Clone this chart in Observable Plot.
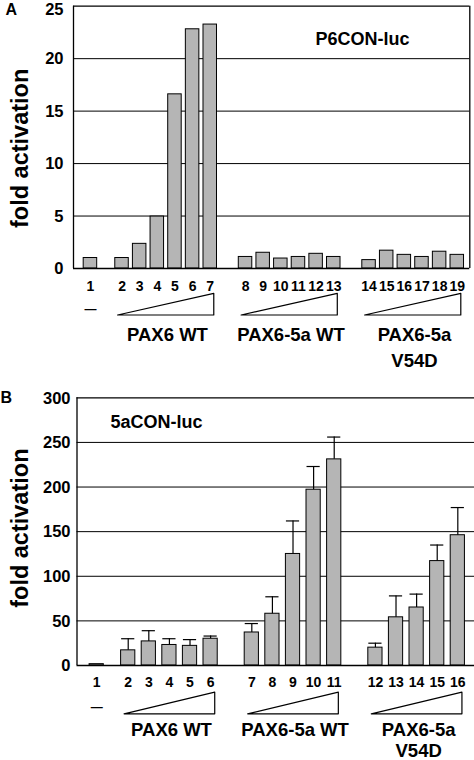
<!DOCTYPE html>
<html>
<head>
<meta charset="utf-8">
<script src="https://cdn.jsdelivr.net/npm/d3@7"></script>
<script src="https://cdn.jsdelivr.net/npm/@observablehq/plot@0.6"></script>
<style>
  html, body { margin: 0; padding: 0; background: #fff; overflow: hidden; }
  #chart svg { display: block; }
</style>
</head>
<body>
<div id="chart"></div>
<script>
// ---------- data ----------
const topLabels = ["1","2","3","4","5","6","7","8","9","10","11","12","13","14","15","16","17","18","19"];
const topGroups = [0,1,1,1,1,1,1,2,2,2,2,2,2,3,3,3,3,3,3];
const topValues = [1.0,1.0,2.35,4.95,16.6,22.8,23.25,1.1,1.5,0.95,1.1,1.4,1.1,0.8,1.7,1.3,1.1,1.6,1.3];
const topTicks = [0,5,10,15,20,25];
const topTitle = "P6CON-luc";
const topLetter = "A";

const bottomLabels = ["1","2","3","4","5","6","7","8","9","10","11","12","13","14","15","16"];
const bottomGroups = [0,1,1,1,1,1,2,2,2,2,2,3,3,3,3,3];
const bottomValues = [1.5,17,27,23,22,30,37,58,125,197,231,20,54,65,117,146];
const bottomErrors = [0,13,12,7,7,3,10,19,37,26,25,5,24,15,18,31];
const bottomTicks = [0,50,100,150,200,250,300];
const bottomTitle = "5aCON-luc";
const bottomLetter = "B";

const groupNames = ["—", "PAX6 WT", "PAX6-5a WT", "PAX6-5a\nV54D"];
const yLabel = "fold activation";

// ---------- drawing ----------
const FONT = "'Liberation Sans', Arial, Helvetica, sans-serif";
const BAR_FILL = "#b5b5b5";

function panel(labels, groups, values, errors, ticks, title, letter, L) {
  const yMax = ticks[ticks.length - 1];
  const pxPerUnit = (L.height - L.mt - L.mb) / yMax;
  const below = px => -px / pxPerUnit; // pixel distance below the baseline, in y units
  const rows = labels.map((label, i) => {
    const g = groups[i];
    return {
      label, g, value: values[i], err: errors ? errors[i] : 0,
      pos: i + (g >= 1 ? L.firstGap : 0) + Math.max(g - 1, 0)
    };
  });
  const gids = [...new Set(groups)];
  const tri = [], glab = [];
  for (const g of gids) {
    const ps = rows.filter(r => r.g === g).map(r => r.pos);
    const a = d3.min(ps), b = d3.max(ps);
    if (g === 0) {
      glab.push({x: (a + b) / 2, text: groupNames[g], dash: true});
      continue;
    }
    const xl = a - L.triL, xr = b + L.triR;
    tri.push({g, x: xl, y: below(L.triBottom)});
    tri.push({g, x: xr, y: below(L.triBottom)});
    tri.push({g, x: xr, y: below(L.triTop)});
    tri.push({g, x: xl, y: below(L.triBottom)});
    glab.push({x: (xl + xr) / 2 + L.labShift, text: groupNames[g], dash: false});
  }
  const errRows = rows.filter(r => r.err > 0);
  const marks = [
    Plot.ruleY(ticks.filter(t => t > 0 && t < yMax), {stroke: "black", strokeWidth: 1}),
    Plot.rectY(rows, {
      x1: d => d.pos - L.barW / 2, x2: d => d.pos + L.barW / 2, y: "value",
      fill: BAR_FILL, stroke: "black", strokeWidth: 1
    }),
    Plot.ruleX(errRows, {x: "pos", y1: "value", y2: d => d.value + d.err, stroke: "black", strokeWidth: 1.2}),
    Plot.ruleY(errRows, {y: d => d.value + d.err, x1: d => d.pos - L.capHalf, x2: d => d.pos + L.capHalf, stroke: "black", strokeWidth: 1.2}),
    Plot.ruleY([0], {stroke: "black", strokeWidth: 1.6}),
    Plot.ruleY([yMax], {stroke: "black", strokeWidth: 1.3}),
    Plot.ruleX([L.xDomain[0]], {y1: 0, y2: yMax, stroke: "black", strokeWidth: 1.3}),
    Plot.axisY({ticks: ticks.slice(0, -1), tickSize: 0, tickPadding: L.tickPad, fontSize: 16.5, label: null, dy: 0.5, tickFormat: d => String(d)}),
    Plot.axisY({ticks: ticks.slice(-1), tickSize: 0, tickPadding: L.tickPad, fontSize: 16.5, label: null, dy: L.topTickDy, tickFormat: d => String(d)}),
    Plot.text(rows, {x: "pos", y: () => 0, text: "label", dy: L.numDy, lineAnchor: "top", fontSize: 14}),
    Plot.line(tri, {x: "x", y: "y", z: "g", stroke: "black", strokeWidth: 1.2}),
    Plot.text(glab.filter(d => d.dash), {x: "x", y: () => 0, text: "text", dy: L.dashDy, fontSize: 12}),
    Plot.text(glab.filter(d => !d.dash), {x: "x", y: () => 0, text: "text", dy: L.groupDy, lineAnchor: "top", fontSize: 18.5, lineHeight: L.lineHeight}),
    Plot.text([title], {frameAnchor: "top-left", textAnchor: "start", lineAnchor: "top", dx: L.titleDx, dy: L.titleDy, fontSize: 18}),
    Plot.text([letter], {frameAnchor: "top-left", textAnchor: "start", lineAnchor: "top", dx: L.letterDx, dy: L.letterDy, fontSize: 16}),
    Plot.text([yLabel], {frameAnchor: "left", rotate: -90, textAnchor: "middle", lineAnchor: "bottom", dx: L.ylDx, dy: L.ylDy, fontSize: 23.5})
  ];
  if (L.rightFrame) marks.push(Plot.ruleX([L.xDomain[1]], {y1: 0, y2: yMax, stroke: "black", strokeWidth: 1.3}));
  return Plot.plot({
    width: 474, height: L.height,
    marginTop: L.mt, marginBottom: L.mb, marginLeft: L.ml, marginRight: L.mr,
    x: {type: "linear", domain: L.xDomain, axis: null},
    y: {type: "linear", domain: [0, yMax]},
    style: {fontFamily: FONT, fontWeight: "bold", color: "black", background: "white", overflow: "visible"},
    marks
  });
}

const chart = document.getElementById("chart");
chart.append(panel(topLabels, topGroups, topValues, null, topTicks, topTitle, topLetter, {
  height: 385, mt: 5.7, mb: 117, ml: 73, mr: 4.7,
  xDomain: [-0.96, 21.5], firstGap: 0.79, barW: 0.765, capHalf: 0.35,
  triL: 0.25, triR: 0.2, triBottom: 46.5, triTop: 24.8, labShift: 0.1,
  numDy: 13, dashDy: 41, groupDy: 54.7, lineHeight: 1.39, tickPad: 10, topTickDy: 3.2,
  titleDx: 242, titleDy: 26.5, letterDx: -68, letterDy: -2.4,
  ylDx: -46, ylDy: 11, rightFrame: true
}));
chart.append(panel(bottomLabels, bottomGroups, bottomValues, bottomErrors, bottomTicks, bottomTitle, bottomLetter, {
  height: 375, mt: 12.3, mb: 95, ml: 76.5, mr: 0,
  xDomain: [-0.956, 18.34], firstGap: 0.53, barW: 0.69, capHalf: 0.32,
  triL: 0.2, triR: 0.2, triBottom: 48.3, triTop: 26.7, labShift: 0.1,
  numDy: 12, dashDy: 42, groupDy: 55.5, lineHeight: 1.13, tickPad: 6.5, topTickDy: 0.5,
  titleDx: 33.5, titleDy: 17.7, letterDx: -76.5, letterDy: -6,
  ylDx: -49.5, ylDy: -3.5, rightFrame: false
}));
</script>
</body>
</html>
